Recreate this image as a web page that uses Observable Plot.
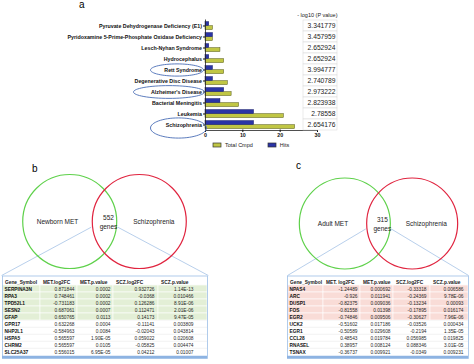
<!DOCTYPE html>
<html><head><meta charset="utf-8">
<script src="https://cdn.jsdelivr.net/npm/d3@7"></script>
<script src="https://cdn.jsdelivr.net/npm/@observablehq/plot@0.6"></script>
<style>
body{margin:0;background:#fff}
#root{position:relative;width:474px;height:364px;overflow:hidden;font-family:"Liberation Sans",Arial,sans-serif}
#root svg{overflow:visible}
.panel{position:absolute;font-size:10px;line-height:10px;color:#000}
#legend svg{margin-right:4px}
#legend rect{stroke:#333;stroke-width:0.7px}
#legend > span, #legend span[class$="-swatch"]{margin-right:15px}
</style></head>
<body><div id="root"></div>
<script>
// ---------- DATA ----------
const diseases = ["Pyruvate Dehydrogenase Deficiency (E1)","Pyridoxamine 5-Prime-Phosphate Oxidase Deficiency","Lesch-Nyhan Syndrome","Hydrocephalus","Rett Syndrome","Degenerative Disc Disease","Alzheimer's Disease","Bacterial Meningitis","Leukemia","Schizophrenia"];
const hits      = [1, 2, 1, 1, 2, 2, 5, 4, 13, 13];
const totalCmpd = [2, 2, 4, 5, 5, 6, 7, 9, 21, 24];
const negLog10P = ["3.341779","3.457959","2.652924","2.652924","3.994777","2.740789","2.973222","2.823938","2.78558","2.654176"];
const highlighted = ["Rett Syndrome","Alzheimer's Disease","Schizophrenia"];
const xTicks = [0, 10, 20, 30];
const legendLabels = ["Total Cmpd","Hits"];
const pHeader = "- log10 (P value)";

const vennBSets = ["Newborn MET","Schizophrenia"];
const vennBOverlap = 552;
const vennCSets = ["Adult MET","Schizophrenia"];
const vennCOverlap = 315;

const headerB = ["Gene_Symbol","MET.log2FC","MET.p.value","SCZ.log2FC","SCZ.p.value"];
const genesB = ["SERPINA3N","RPA3","TPD52L1","SESN2","GFAP","GPR17","NHP2L1","HSPA5","CHRM2","SLC25A37"];
const metLog2fcB = ["0.871844","0.748461","-0.731183","0.687061","0.650765","0.632268","-0.584963","0.565597","0.565597","0.556015"];
const metPB = ["0.0002","0.0002","0.0002","0.0007","0.0113","0.0004","0.0084","1.90E-05","0.0105","6.95E-05"];
const sczLog2fcB = ["0.932726","-0.0368","0.126286","0.112471","0.14173","-0.11141","-0.02043","0.059022","-0.05825","0.04212"];
const sczPB = ["1.14E-13","0.010466","8.91E-06","2.01E-06","9.47E-05","0.003809","0.043814","0.020608","0.004474","0.01007"];
const shadedB = 5;

const headerC = ["Gene_Symbol","MET. log2FC","MET.p.value","SCZ.log2FC","SCZ.p.value"];
const genesC = ["NPAS4","ARC","DUSP1","FOS","EGR2","UCK2","EGR1","CCL28","RNASEL","TSNAX"];
const metLog2fcC = ["-1.24489","-0.926","-0.82375","-0.81558","-0.74846","-0.51602","-0.50589","0.48543","0.38957","-0.36737"];
const metPC = ["0.000692","0.011941","0.009036","0.01398","0.009506","0.017186","0.029608","0.019784","0.008124","0.009921"];
const sczLog2fcC = ["-0.33318","-0.24369","-0.13234","-0.17895","-0.30627","-0.03526","-0.2194","0.056985","0.088346","-0.0349"];
const sczPC = ["0.006586","9.78E-06","0.00093","0.016174","7.96E-06","0.000434","1.35E-05","0.019825","3.01E-05","0.009231"];
const shadedC = 5;

// ---------- HELPERS ----------
const root = document.getElementById("root");
function place(el, left, top) {
  el.style.position = "absolute"; el.style.left = left + "px"; el.style.top = top + "px";
  root.appendChild(el); return el;
}
const FONT = '"Liberation Sans", Arial, sans-serif';
const base = {background: "transparent", overflow: "visible", fontFamily: FONT};
const hitsColor = "#2a34a6", totalColor = "#c0c644";
const linkColor = "#a6c3e6", borderColor = "#9dbfe6";

function ellipseSymbol(k) {
  return {draw(ctx, size) {
    const rx = Math.sqrt(size / Math.PI), ry = rx * k, c = 0.5523;
    ctx.moveTo(rx, 0);
    ctx.bezierCurveTo(rx, ry * c, rx * c, ry, 0, ry);
    ctx.bezierCurveTo(-rx * c, ry, -rx, ry * c, -rx, 0);
    ctx.bezierCurveTo(-rx, -ry * c, -rx * c, -ry, 0, -ry);
    ctx.bezierCurveTo(rx * c, -ry, rx, -ry * c, rx, 0);
    ctx.closePath();
  }};
}

// ---------- PANEL LETTERS ----------
[["a", 79, 0], ["b", 32, 164], ["c", 296, 161]].forEach(([t, l, tp]) => {
  const d = document.createElement("div"); d.className = "panel"; d.textContent = t; place(d, l, tp);
});

// ---------- PANEL A: BAR CHART ----------
const rows = diseases.map((disease, i) => ({disease, hits: hits[i], total: totalCmpd[i], p: negLog10P[i]}));
const ellipseGeom = {
  "Rett Syndrome": {dx: -28.5, dy: 0, r: 26.5, k: 0.23},
  "Alzheimer's Disease": {dx: -36.5, dy: 0, r: 35.5, k: 0.18},
  "Schizophrenia": {dx: -27, dy: 3, r: 28, k: 0.36}
};
const barH = 142;
const bars = Plot.plot({
  width: 330, height: barH,
  marginLeft: 205, marginRight: 13, marginTop: 19.5, marginBottom: barH - 129.5,
  x: {domain: [0, 30]},
  y: {domain: diseases, padding: 0},
  style: {...base, fontSize: "5.3px", fontWeight: "bold", color: "#111"},
  marks: [
    Plot.barX(rows, {x: "total", y: "disease", fill: totalColor, stroke: "#55591c", strokeWidth: 0.5, insetTop: 5.6, insetBottom: 1.4}),
    Plot.barX(rows, {x: "hits", y: "disease", fill: hitsColor, stroke: "#141a66", strokeWidth: 0.5, insetTop: 1.6, insetBottom: 5.5}),
    Plot.ruleX([0], {stroke: "#222", strokeWidth: 0.8}),
    Plot.ruleY([diseases[diseases.length - 1]], {dy: 5.5, stroke: "#222", strokeWidth: 0.8}),
    Plot.axisY({tickSize: 2, tickPadding: 1.5, label: null}),
    Plot.axisX({ticks: xTicks, tickSize: 2.5, tickPadding: 1, label: null}),
    ...highlighted.map(name => {
      const g = ellipseGeom[name];
      return Plot.dot([name], {y: d => d, frameAnchor: "left", dx: g.dx, dy: g.dy, r: g.r,
        symbol: ellipseSymbol(g.k), stroke: "#4a6db5", strokeWidth: 0.9, fill: "none"});
    })
  ]
});
place(bars, 0, 0);

// p-value column
const pcol = Plot.plot({
  width: 47, height: barH,
  marginLeft: 10, marginRight: 3, marginTop: 19.5, marginBottom: barH - 129.5,
  x: {domain: ["v"], padding: 0, axis: null},
  y: {domain: diseases, padding: 0, axis: null},
  style: {...base, fontSize: "6.7px", color: "#222"},
  marks: [
    Plot.cell(rows, {x: () => "v", y: "disease", fill: "white", stroke: "#d6d6d6", strokeWidth: 0.5}),
    Plot.text(rows, {x: () => "v", y: "disease", text: "p", textAnchor: "end", dx: 15}),
    Plot.text([pHeader], {frameAnchor: "top-right", textAnchor: "end", lineAnchor: "middle", dy: -5, fontSize: 5.5})
  ]
});
place(pcol, 293, 0);

// legend
const legend = Plot.legend({
  color: {domain: legendLabels, range: [totalColor, hitsColor]},
  legend: "swatches", swatchWidth: 8, swatchHeight: 4,
  style: {fontSize: "5.5px", fontFamily: FONT, minHeight: "0", marginLeft: "0", color: "#222"}
});
legend.id = "legend";
place(legend, 213, 142);

// ---------- VENN DIAGRAMS ----------
function vennPlot(names, overlap, L) {
  const {width, height, cx, cy, unit} = L;
  const x0 = -cx / unit, x1 = (width - cx) / unit, y0 = -(height - cy) / unit, y1 = cy / unit;
  const sets = names.map((name, i) => ({name, side: i ? 1 : -1}));
  return Plot.plot({
    width, height, margin: 0,
    x: {domain: [x0, x1], axis: null},
    y: {domain: [y0, y1], axis: null},
    style: {...base, fontSize: "6.5px", color: "#222"},
    marks: [
      Plot.link([-1, 1], {x1: s => 0.28 * s, y1: () => -0.12, x2: s => s < 0 ? L.left : L.right, y2: () => y0,
        stroke: linkColor, strokeWidth: 0.8}),
      Plot.dot([sets[0]], {x: () => -0.74, y: () => 0, r: unit, stroke: "#5fd14b", strokeWidth: 1.2}),
      Plot.dot([sets[1]], {x: () => 0.74, y: () => 0, r: unit, stroke: "#e0243f", strokeWidth: 1.2}),
      Plot.text(sets, {x: s => s.side < 0 ? -1.0 : 1.05, y: () => 0, text: "name"}),
      Plot.text([overlap], {x: () => 0.085, y: () => 0, text: d => `${d}\ngenes`, lineHeight: 1.45})
    ]
  });
}
place(vennPlot(vennBSets, vennBOverlap, {width: 237, height: 110, cx: 104, cy: 56, unit: 47, left: -2.19, right: 2.21}), 0, 165);
place(vennPlot(vennCSets, vennCOverlap, {width: 237, height: 110, cx: 141, cy: 58, unit: 45.5, left: -2.0, right: 1.98}), 237, 165);

// ---------- TABLES ----------
function tablePlot(header, cols, shaded, shadeColor, colWidths, pads) {
  const edges = [0]; colWidths.forEach(w => edges.push(edges[edges.length - 1] + w));
  const width = edges[edges.length - 1], height = 87;
  const cells = [];
  for (let r = 0; r <= cols[0].length; r++)
    for (let c = 0; c < cols.length; c++)
      cells.push({row: r, col: c, x1: edges[c], x2: edges[c + 1],
        text: r === 0 ? header[c] : cols[c][r - 1], shaded: r >= 1 && r <= shaded});
  const nRows = cols[0].length + 1;
  return Plot.plot({
    width, height, marginLeft: 0, marginRight: 0, marginTop: 0.5, marginBottom: 4,
    x: {domain: [0, width], axis: null},
    y: {domain: d3.range(nRows), padding: 0, axis: null},
    style: {...base, fontSize: "4.8px", color: "#2a2a2a"},
    marks: [
      Plot.ruleY(d3.range(1, nRows), {dy: -3.75, stroke: "#e2e2e2", strokeWidth: 0.5}),
      Plot.barX(cells.filter(d => d.shaded), {x1: "x1", x2: "x2", y: "row", fill: shadeColor, stroke: "white", strokeWidth: 0.6}),
      Plot.text(cells.filter(d => d.row === 0), {x: "x1", y: "row", text: "text", textAnchor: "start", dx: 2.5, fontWeight: "bold", fill: "#222"}),
      Plot.text(cells.filter(d => d.row > 0 && d.col === 0), {x: "x1", y: "row", text: "text", textAnchor: "start", dx: pads[0], fontWeight: "bold", fill: "#111"}),
      Plot.text(cells.filter(d => d.row > 0 && d.col > 0), {x: d => d.x2 - pads[d.col], y: "row", text: "text", textAnchor: "end"}),
      Plot.frame({stroke: borderColor, strokeWidth: 0.8}),
      Plot.ruleY([nRows - 1], {dy: 3.75 + 1.2, stroke: "#8db3e2", strokeWidth: 2.4})
    ]
  });
}
place(tablePlot(headerB, [genesB, metLog2fcB, metPB, sczLog2fcB, sczPB], shadedB, "#e3efd6",
  [38, 37, 36, 45, 49], [2, 3, 3, 4, 14]), 2, 275);
place(tablePlot(headerC, [genesC, metLog2fcC, metPC, sczLog2fcC, sczPC], shadedC, "#f9dcd7",
  [36, 37, 33, 37, 38], [2, 3, 3, 4, 5]), 287, 275);
</script>
</body></html>
